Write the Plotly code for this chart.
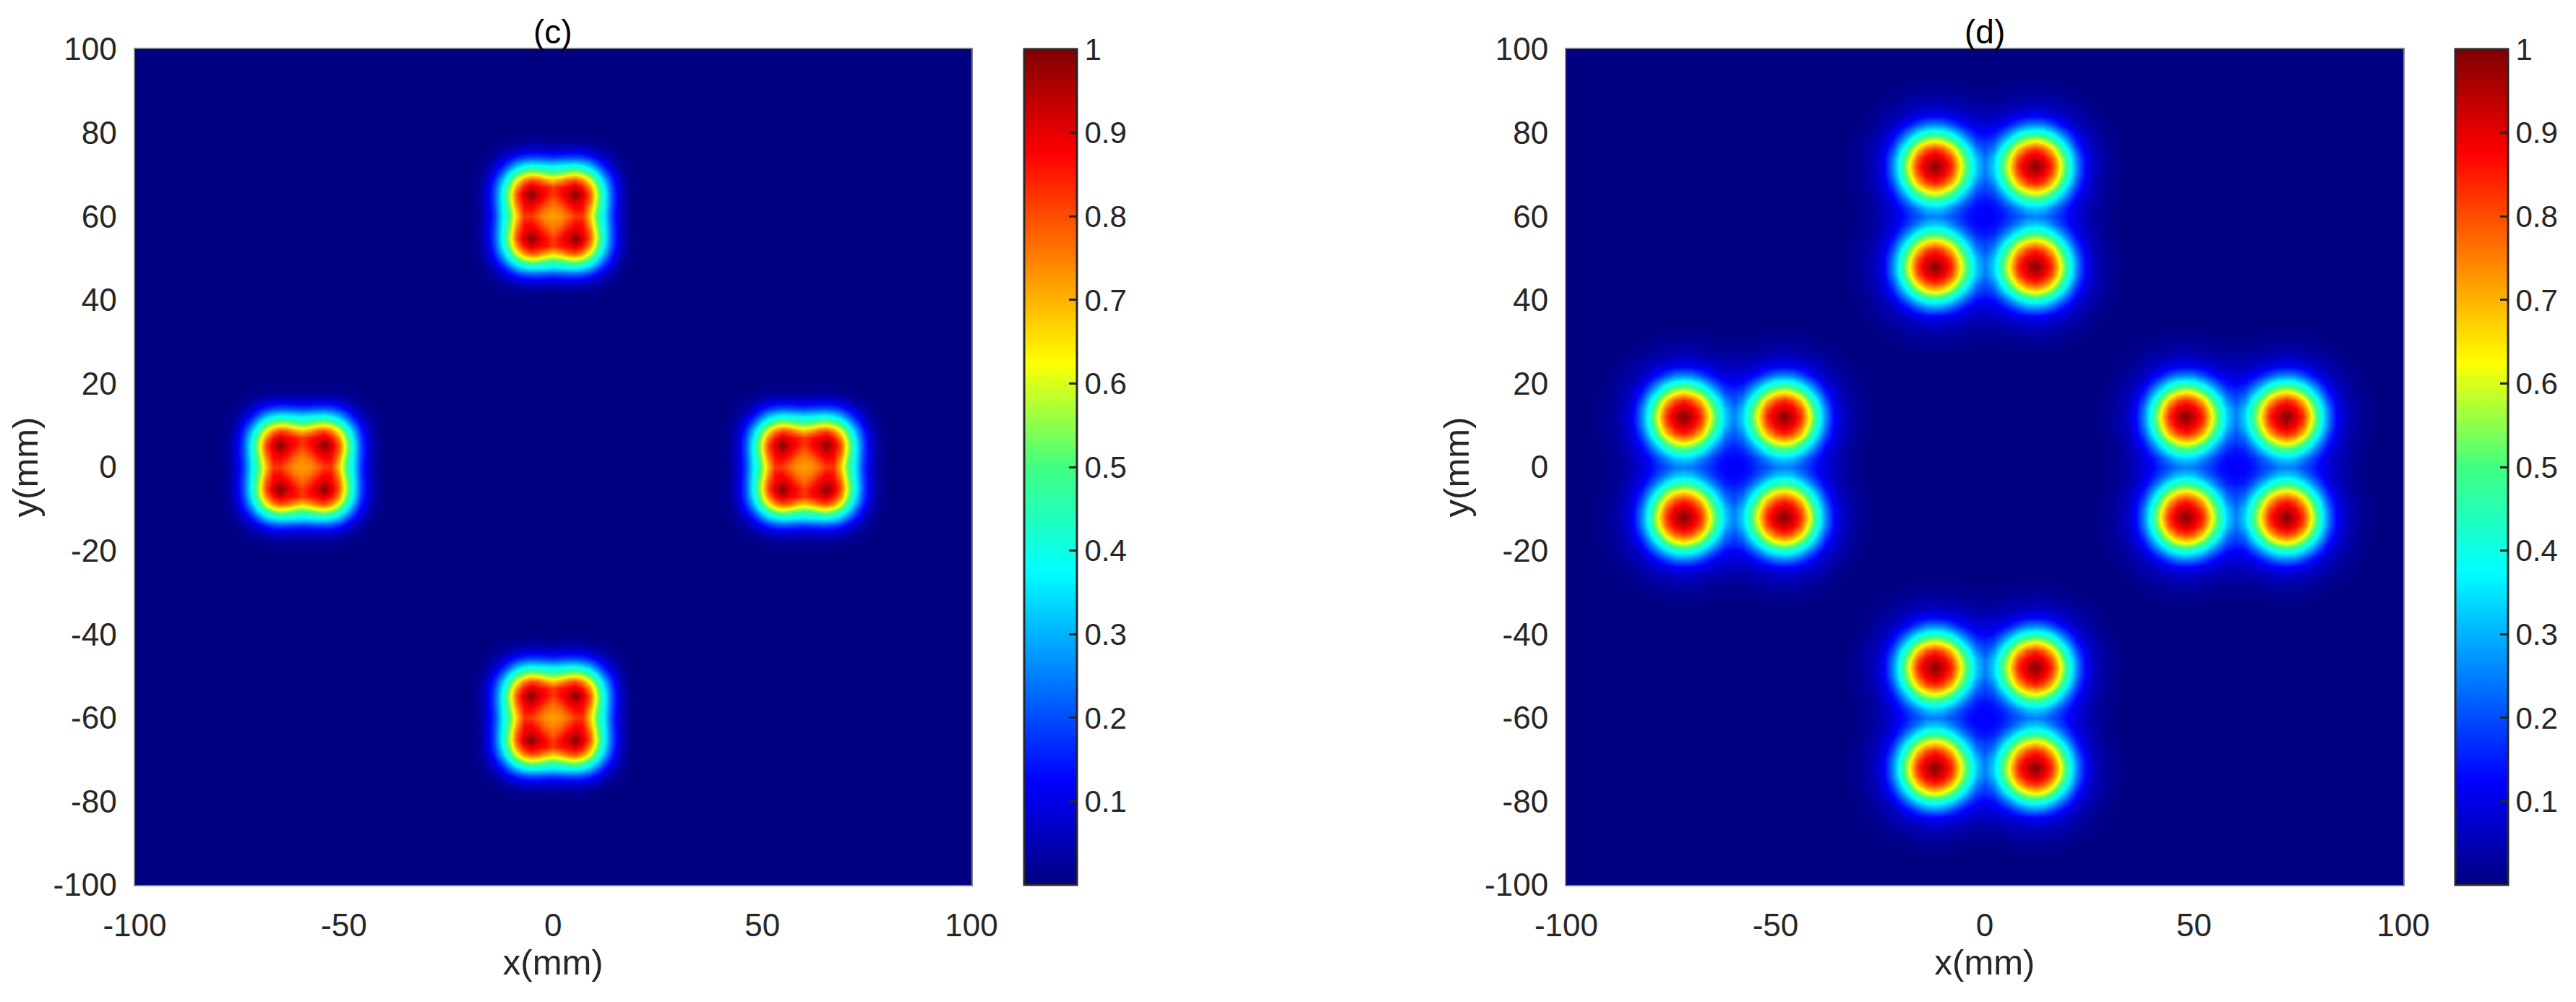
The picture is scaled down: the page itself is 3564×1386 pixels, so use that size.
"""Two intensity maps: four focal clusters per panel, jet colour scale."""

import numpy as np
import plotly.graph_objects as go

WIDTH = 3564
HEIGHT = 1386
PAGE_MARGIN = 8  # the page body sits this far in from the window edge
FONT = "Liberation Sans"
INK = "#262626"

X_TICKS = [-100, -50, 0, 50, 100]
Y_TICKS = [-100, -80, -60, -40, -20, 0, 20, 40, 60, 80, 100]
BAR_TICKS = [0.1, 0.2, 0.3, 0.4, 0.5, 0.6, 0.7, 0.8, 0.9, 1]
BAR_LABELS = ["0.1", "0.2", "0.3", "0.4", "0.5", "0.6", "0.7", "0.8", "0.9", "1"]

JET = [
    [0.0, "#000080"],
    [0.125, "#0000ff"],
    [0.375, "#00ffff"],
    [0.5, "#40ff80"],
    [0.625, "#ffff00"],
    [0.875, "#ff0000"],
    [1.0, "#800000"],
]

# cluster centres (mm), same layout in both panels
CLUSTER_X = [0, 0, -60, 60]
CLUSTER_Y = [60, -60, 0, 0]

# one quadrant of a cluster in panel (c)
C_OFFSETS = [0, 1.75, 3.5, 5.25, 7, 8.75, 10.5, 12.25, 14, 15.75, 17.5, 19.25]
C_QUADRANT = [
    [.72, .73, .77, .82, .82, .68, .50, .36, .18, .08, .025, .005],
    [.74, .76, .82, .87, .86, .72, .52, .37, .19, .085, .027, .006],
    [.77, .82, .88, .92, .88, .78, .56, .38, .20, .09, .03, .007],
    [.82, .87, .92, 1.0, .92, .80, .58, .39, .20, .09, .03, .007],
    [.82, .86, .88, .92, .86, .74, .54, .36, .19, .085, .027, .006],
    [.68, .72, .78, .80, .74, .62, .46, .31, .16, .07, .022, .005],
    [.50, .52, .56, .58, .54, .46, .35, .22, .115, .05, .016, .004],
    [.36, .37, .38, .39, .36, .31, .22, .14, .07, .03, .01, .002],
    [.18, .19, .20, .20, .19, .16, .115, .07, .035, .015, .005, .001],
    [.08, .085, .09, .09, .085, .07, .05, .03, .015, .006, .002, 0],
    [.025, .027, .03, .03, .027, .022, .016, .01, .005, .002, 0, 0],
    [.005, .006, .007, .007, .006, .005, .004, .002, .001, 0, 0, 0],
]

# one quadrant of a cluster in panel (d)
D_OFFSETS = [0, 2, 4, 6, 8, 10, 12, 14, 16, 18, 20, 22, 24, 26, 28, 30, 32]
D_QUADRANT = [
    [.12, .126, .14, .18, .204, .24, .25, .24, .20, .17, .12, .09, .06, .036, .02, .01, .004],
    [.126, .13, .157, .206, .259, .315, .33, .315, .255, .195, .135, .092, .063, .038, .022, .011, .004],
    [.14, .157, .213, .301, .39, .45, .47, .45, .385, .29, .19, .111, .07, .046, .023, .011, .005],
    [.18, .206, .301, .42, .535, .62, .66, .62, .528, .405, .271, .153, .09, .053, .03, .015, .007],
    [.204, .259, .39, .535, .688, .80, .84, .80, .679, .517, .355, .204, .102, .055, .035, .018, .009],
    [.24, .315, .45, .62, .80, .89, .93, .89, .79, .60, .41, .25, .12, .065, .04, .02, .01],
    [.25, .33, .47, .66, .84, .93, 1.0, .93, .83, .64, .43, .26, .125, .07, .04, .02, .01],
    [.24, .315, .45, .62, .80, .89, .93, .89, .79, .60, .41, .25, .12, .065, .04, .02, .01],
    [.20, .255, .385, .528, .679, .79, .83, .79, .67, .51, .35, .20, .10, .055, .035, .018, .009],
    [.17, .195, .29, .405, .517, .60, .64, .60, .51, .39, .26, .145, .085, .05, .03, .015, .007],
    [.12, .135, .19, .271, .355, .41, .43, .41, .35, .26, .17, .095, .06, .04, .02, .011, .005],
    [.09, .092, .111, .153, .204, .25, .26, .25, .20, .145, .095, .065, .045, .027, .016, .008, .004],
    [.06, .063, .07, .09, .102, .12, .125, .12, .10, .085, .06, .045, .03, .018, .01, .005, .002],
    [.036, .038, .046, .053, .055, .065, .07, .065, .055, .05, .04, .027, .018, .011, .006, .003, 0],
    [.02, .022, .023, .03, .035, .04, .04, .04, .035, .03, .02, .016, .01, .006, .003, 0, 0],
    [.01, .011, .011, .015, .018, .02, .02, .02, .018, .015, .011, .008, .005, .003, 0, 0, 0],
    [.004, .004, .005, .007, .009, .01, .01, .01, .009, .007, .005, .004, .002, 0, 0, 0, 0],
]

FIG_W = WIDTH - 2 * PAGE_MARGIN
FIG_H = HEIGHT - 2 * PAGE_MARGIN


def px_x(px):
    return (px - PAGE_MARGIN) / FIG_W


def px_y(px):
    return 1 - (px - PAGE_MARGIN) / FIG_H


def mirror(quadrant):
    """Unfold a quadrant into the whole cluster."""
    q = np.array(quadrant)
    top = np.hstack([q[:, :0:-1], q])
    return np.vstack([top[:0:-1], top])


def add_clusters(fig, offsets, quadrant, xaxis, yaxis, coloraxis):
    z = mirror(quadrant)
    off = np.array(offsets)
    off = np.concatenate([-off[:0:-1], off])
    for cx, cy in zip(CLUSTER_X, CLUSTER_Y):
        fig.add_trace(go.Heatmap(
            x=off + cx,
            y=off + cy,
            z=z,
            zsmooth="best",
            coloraxis=coloraxis,
            xaxis=xaxis,
            yaxis=yaxis,
        ))


def colorbar(left):
    return dict(
        x=px_x(left),
        xanchor="left",
        y=px_y(1224),
        yanchor="bottom",
        len=1156 / FIG_H,
        lenmode="fraction",
        thickness=73,
        thicknessmode="pixels",
        xpad=0,
        ypad=0,
        ticks="inside",
        ticklen=12,
        tickwidth=3,
        tickcolor=INK,
        outlinecolor=INK,
        outlinewidth=3,
        tickmode="array",
        tickvals=BAR_TICKS,
        ticktext=BAR_LABELS,
        tickfont=dict(family=FONT, size=42, color=INK),
    )


def x_axis(left, right):
    return dict(
        domain=[px_x(left), px_x(right)],
        range=[-100, 100],
        tickmode="array",
        tickvals=X_TICKS,
        ticktext=[str(t) for t in X_TICKS],
        ticks="outside",
        ticklen=16,
        tickcolor="rgba(0,0,0,0)",
        tickfont=dict(family=FONT, size=44, color=INK),
        title=dict(text="x(mm)", font=dict(family=FONT, size=49, color=INK), standoff=10),
        showgrid=False,
        zeroline=False,
        showline=True,
        mirror=True,
        linecolor="#808080",
        linewidth=2,
    )


def y_axis(anchor):
    return dict(
        anchor=anchor,
        domain=[px_y(1224), px_y(68)],
        range=[-100, 100],
        tickmode="array",
        tickvals=Y_TICKS,
        ticktext=[str(t) for t in Y_TICKS],
        ticks="outside",
        ticklen=14,
        tickcolor="rgba(0,0,0,0)",
        tickfont=dict(family=FONT, size=44, color=INK),
        title=dict(text="y(mm)", font=dict(family=FONT, size=49, color=INK), standoff=6),
        showgrid=False,
        zeroline=False,
        showline=True,
        mirror=True,
        linecolor="#808080",
        linewidth=2,
    )


def panel_title(text, centre):
    return dict(
        text=text, x=px_x(centre), y=px_y(68), xref="paper", yref="paper",
        xanchor="center", yanchor="bottom", showarrow=False, yshift=-4,
        font=dict(family=FONT, size=46, color="#000000"),
    )


fig = go.Figure()
add_clusters(fig, C_OFFSETS, C_QUADRANT, "x", "y", "coloraxis")
add_clusters(fig, D_OFFSETS, D_QUADRANT, "x2", "y2", "coloraxis2")

fig.update_layout(
    width=FIG_W,
    height=FIG_H,
    margin=dict(l=0, r=0, t=0, b=0, autoexpand=False),
    paper_bgcolor="white",
    plot_bgcolor="#000080",
    showlegend=False,
    xaxis=x_axis(186.5, 1344),
    yaxis=y_axis("x"),
    xaxis2=dict(x_axis(2167, 3325), anchor="y2"),
    yaxis2=y_axis("x2"),
    coloraxis=dict(colorscale=JET, cmin=0, cmax=1, colorbar=colorbar(1417)),
    coloraxis2=dict(colorscale=JET, cmin=0, cmax=1, colorbar=colorbar(3397)),
    annotations=[panel_title("(c)", 765), panel_title("(d)", 2746)],
)

fig.write_html("out.html")
